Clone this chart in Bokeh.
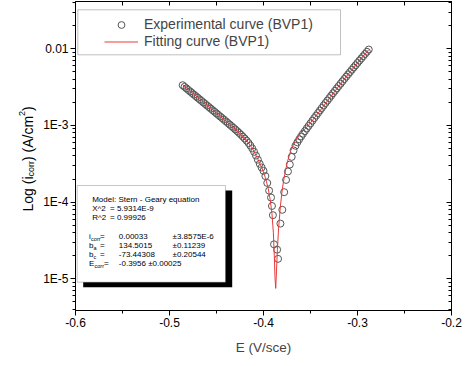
from bokeh.plotting import figure
from bokeh.layouts import row
from bokeh.models import (Range1d, LinearAxis, LogAxis, FixedTicker, Label,
                          BoxAnnotation, Legend, LegendItem)
from bokeh.embed import file_html
from bokeh.resources import INLINE

# ---------------- data ----------------
# Experimental curve (BVP1): potential E (V/sce) and log10 of current density (A/cm2)
e_exp = [-0.486, -0.484, -0.482, -0.480, -0.478, -0.476, -0.474, -0.472, -0.470, -0.468,
         -0.466, -0.464, -0.462, -0.460, -0.458, -0.456, -0.454, -0.452, -0.450, -0.448,
         -0.446, -0.444, -0.442, -0.440, -0.438, -0.436, -0.434, -0.432, -0.430, -0.428,
         -0.426, -0.424, -0.422, -0.420, -0.418, -0.416, -0.414, -0.412, -0.410, -0.408,
         -0.406, -0.404, -0.402, -0.400, -0.398, -0.396, -0.394, -0.392, -0.391, -0.390,
         -0.3888, -0.3855, -0.3845, -0.382, -0.380, -0.378, -0.376, -0.374, -0.372, -0.370,
         -0.368, -0.366, -0.364, -0.362, -0.360, -0.358, -0.356, -0.354, -0.352, -0.350,
         -0.348, -0.346, -0.344, -0.342, -0.340, -0.338, -0.336, -0.334, -0.332, -0.330,
         -0.328, -0.326, -0.324, -0.322, -0.320, -0.318, -0.316, -0.314, -0.312, -0.310,
         -0.308, -0.306, -0.304, -0.302, -0.300, -0.298, -0.296, -0.294, -0.292, -0.290,
         -0.288]
log_i_exp = [-2.475, -2.496, -2.516, -2.537, -2.557, -2.577, -2.598, -2.618, -2.638, -2.659,
             -2.679, -2.700, -2.720, -2.741, -2.761, -2.781, -2.802, -2.822, -2.843, -2.863,
             -2.884, -2.904, -2.925, -2.946, -2.967, -2.988, -3.009, -3.030, -3.052, -3.074,
             -3.097, -3.120, -3.145, -3.171, -3.198, -3.228, -3.262, -3.300, -3.344, -3.393,
             -3.447, -3.500, -3.548, -3.592, -3.660, -3.750, -3.850, -3.940, -4.050, -4.170,
             -4.550, -4.620, -4.740, -4.280, -4.100, -3.870, -3.710, -3.600, -3.510, -3.410,
             -3.325, -3.265, -3.220, -3.180, -3.143, -3.108, -3.074, -3.040, -3.006, -2.972,
             -2.938, -2.904, -2.871, -2.838, -2.805, -2.772, -2.739, -2.707, -2.675, -2.643,
             -2.611, -2.579, -2.548, -2.517, -2.486, -2.455, -2.424, -2.394, -2.363, -2.333,
             -2.303, -2.273, -2.243, -2.214, -2.184, -2.155, -2.126, -2.097, -2.068, -2.039,
             -2.010]

# Fitting curve (BVP1)
e_fit = [-0.486, -0.476, -0.466, -0.456, -0.446, -0.436, -0.426, -0.418, -0.412, -0.406,
         -0.402, -0.398, -0.395, -0.393, -0.391, -0.3895, -0.3885, -0.3877, -0.3870, -0.3862,
         -0.3852, -0.3840, -0.3820, -0.3800, -0.3775, -0.3745, -0.3710, -0.3670, -0.3620,
         -0.3560, -0.3500, -0.3400, -0.3300, -0.3200, -0.3100, -0.3000, -0.2900, -0.2880]
log_i_fit = [-2.470, -2.572, -2.675, -2.778, -2.882, -2.986, -3.095, -3.195, -3.295, -3.440,
             -3.545, -3.680, -3.820, -3.960, -4.150, -4.400, -4.700, -5.000, -5.125, -4.900,
             -4.620, -4.350, -4.050, -3.830, -3.640, -3.470, -3.330, -3.215, -3.120,
             -3.050, -2.965, -2.810, -2.650, -2.490, -2.335, -2.185, -2.040, -2.010]

x_ticks = [-0.6, -0.5, -0.4, -0.3, -0.2]
x_tick_labels = ["-0.6", "-0.5", "-0.4", "-0.3", "-0.2"]
x_minor = [-0.55, -0.45, -0.35, -0.25]
x_top_ticks = [-0.55, -0.5, -0.45, -0.4, -0.35, -0.3, -0.25, -0.2]
y_ticks = [1e-5, 1e-4, 1e-3, 1e-2]
y_tick_labels = ["1E-5", "1E-4", "1E-3", "0.01"]
y_minor = [m * 10.0 ** k for k in range(-6, -1) for m in range(2, 10)]

fit_stats = [("X^2", "= 5.9314E-9"), ("R^2", "= 0.99926")]
param_names = [("i", "corr"), ("b", "a"), ("b", "c"), ("E", "corr")]
param_values = ["0.00033", "134.5015", "-73.44308", "-0.3956 \u00b10.00025"]
param_errors = ["\u00b13.8575E-6", "\u00b10.11239", "\u00b10.20544", ""]

i_exp = [10.0 ** v for v in log_i_exp]
i_fit = [10.0 ** v for v in log_i_fit]

FONT = "Liberation Sans"
LW = 40  # width of the strip holding the y-axis title

# ---------------- strip with the rotated y-axis title ----------------
lab = figure(width=LW, height=358, output_backend="svg", toolbar_location=None,
             x_range=Range1d(0, 1), y_range=Range1d(0, 1),
             x_axis_location=None, y_axis_location=None, min_border=0)
lab.outline_line_color = None
lab.xgrid.visible = False
lab.ygrid.visible = False
lab.background_fill_color = "white"
lab.border_fill_color = "white"

def ylab(text, x, y, size):
    lab.add_layout(Label(x=x, y=y, x_units="canvas", y_units="canvas", text=text,
                         angle=90, angle_units="deg", text_font=FONT,
                         text_font_size=size, text_align="left",
                         text_baseline="alphabetic", text_color="black"))

ylab("Log (i", 27, 211, "14px")
ylab("corr", 30, 176, "9px")
ylab(") (A/cm", 27, 160.5, "14px")
ylab("2", 21.5, 115.4, "9px")
ylab(")", 27, 110.4, "14px")

# ---------------- main plot ----------------
p = figure(width=466 - LW, height=358, output_backend="svg", toolbar_location=None,
           x_range=Range1d(-0.6, -0.2), y_range=Range1d(10 ** -5.4133, 10 ** -1.3833),
           y_axis_type="log", min_border_left=75 - LW, min_border_right=15,
           min_border_top=1, min_border_bottom=48)
p.xgrid.visible = False
p.ygrid.visible = False
p.outline_line_color = "black"
p.outline_line_width = 1
p.background_fill_color = "white"
p.border_fill_color = "white"

# bottom axis
xa = p.xaxis[0]
xa.ticker = FixedTicker(ticks=x_ticks, minor_ticks=x_minor)
xa.major_label_overrides = {t: s for t, s in zip(x_ticks, x_tick_labels)}
xa.major_tick_out = 5
xa.major_tick_in = 0
xa.minor_tick_out = 3
xa.minor_tick_in = 0
xa.major_label_standoff = 2
xa.major_label_text_font = FONT
xa.major_label_text_font_size = "12px"
xa.major_label_text_color = "black"
xa.axis_label = "E (V/sce)"
xa.axis_label_text_font = FONT
xa.axis_label_text_font_size = "13.5px"
xa.axis_label_text_font_style = "normal"
xa.axis_label_standoff = 10
xa.axis_line_color = "black"

# left axis
ya = p.yaxis[0]
ya.ticker = FixedTicker(ticks=y_ticks, minor_ticks=y_minor)
ya.major_label_overrides = {t: s for t, s in zip(y_ticks, y_tick_labels)}
ya.major_tick_out = 5
ya.major_tick_in = 0
ya.minor_tick_out = 3
ya.minor_tick_in = 0
ya.major_label_standoff = 2
ya.major_label_text_font = FONT
ya.major_label_text_font_size = "12px"
ya.major_label_text_color = "black"
ya.axis_line_color = "black"

# top axis (ticks inside, no labels)
top = LinearAxis(ticker=FixedTicker(ticks=x_top_ticks, minor_ticks=[]),
                 major_tick_in=4, major_tick_out=0, minor_tick_in=0, minor_tick_out=0,
                 major_label_overrides={t: "" for t in x_top_ticks},
                 major_label_text_font_size="1px", major_label_standoff=0,
                 axis_line_color="black")
p.add_layout(top, "above")

# right axis (ticks inside, no labels)
right = LogAxis(ticker=FixedTicker(ticks=y_ticks, minor_ticks=y_minor),
                major_tick_in=5, major_tick_out=0, minor_tick_in=3, minor_tick_out=0,
                major_label_overrides={t: "" for t in y_ticks},
                major_label_text_font_size="1px", major_label_standoff=0,
                axis_line_color="black")
p.add_layout(right, "right")

# data
circ = p.scatter(e_exp, i_exp, marker="circle", size=7, fill_color=None,
                 line_color="#555555", line_width=1)
fit = p.line(e_fit, i_fit, line_color="#e83a3a", line_width=1)

# canvas x offsets inside the main plot (page x minus strip width)
def cx(x):
    return x - LW

# legend frame
p.add_layout(BoxAnnotation(left=cx(77.3), right=cx(340), top=9.3, bottom=54.3,
                           left_units="canvas", right_units="canvas",
                           top_units="canvas", bottom_units="canvas",
                           fill_color="white", fill_alpha=1,
                           line_color="#333333", line_width=1))
legend = Legend(items=[LegendItem(label="Experimental curve (BVP1)", renderers=[circ]),
                       LegendItem(label="Fitting curve (BVP1)", renderers=[fit])],
                location=(29, 260.5), padding=0, margin=0, spacing=0,
                glyph_width=34, glyph_height=17, label_height=17, label_standoff=6,
                label_text_font=FONT, label_text_font_size="14px",
                border_line_alpha=0, background_fill_alpha=0)
p.add_layout(legend)

# inset result box with shadow
p.add_layout(BoxAnnotation(left=cx(82.7), right=cx(231.7), top=190, bottom=286.7,
                           left_units="canvas", right_units="canvas",
                           top_units="canvas", bottom_units="canvas",
                           fill_color="black", fill_alpha=1, line_alpha=0))
p.add_layout(BoxAnnotation(left=cx(76.7), right=cx(225), top=185, bottom=281.7,
                           left_units="canvas", right_units="canvas",
                           top_units="canvas", bottom_units="canvas",
                           fill_color="white", fill_alpha=1,
                           line_color="#444444", line_width=1))

def txt(text, x, y, size="8px"):
    p.add_layout(Label(x=cx(x), y=y, x_units="canvas", y_units="canvas", text=text,
                       text_font=FONT, text_font_size=size, text_align="left",
                       text_baseline="middle", text_color="black"))

txt("Model: Stern - Geary equation", 91.7, 199)
for k, (nm, val) in enumerate(fit_stats):
    txt(nm, 91.7, 208 + 9 * k)
    txt(val, 109.5, 208 + 9 * k)

sub_x = {"i": 90.6, "b": 93.0, "E": 94.0}
eq_x = {"i": 99.5, "b": 99.5, "E": 103.5}
for k, (base, sub) in enumerate(param_names):
    yy = 236 + 9 * k
    txt(base, 88.5, yy)
    txt(sub, sub_x[base], yy + 2, "5.5px")
    txt("=", eq_x[base], yy)
    txt(param_values[k], 118.3, yy)
    if param_errors[k]:
        txt(param_errors[k], 172, yy)

layout = row(lab, p, spacing=0)
open("out.html", "w").write(file_html(layout, INLINE))
